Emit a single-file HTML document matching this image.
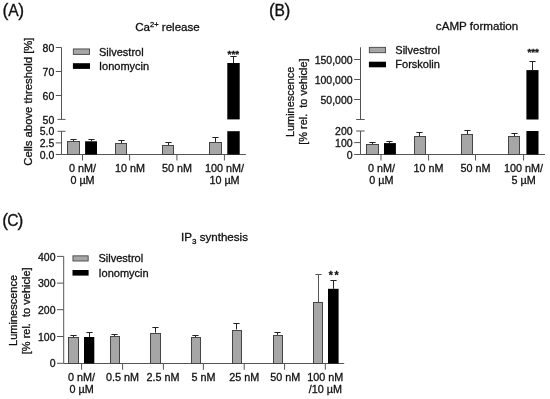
<!DOCTYPE html>
<html><head><meta charset="utf-8"><title>Figure</title>
<style>
html,body{margin:0;padding:0;background:#fff;}
body{width:550px;height:399px;overflow:hidden;}
svg{display:block;filter:blur(0.3px);}
text{font-family:"Liberation Sans", Arial, sans-serif;fill:#111111;stroke:#111111;stroke-width:0.3px;}
</style></head>
<body>
<svg width="550" height="399" viewBox="0 0 550 399" xml:space="preserve">
<rect width="550" height="399" fill="#fff"/>
<text x="2.6" y="16.4" font-size="15.6" text-anchor="start" letter-spacing="-0.3"><tspan font-size="17.5">(</tspan>A<tspan font-size="17.5">)</tspan></text>
<text x="167.5" y="30.9" font-size="11.6" text-anchor="middle" >Ca<tspan font-size="7.5" dy="-4.3">2+</tspan><tspan dy="4.3"> release</tspan></text>
<line x1="61.5" y1="47.5" x2="61.5" y2="119.4" stroke="#555555" stroke-width="1.0"/>
<line x1="61.5" y1="131.3" x2="61.5" y2="154.5" stroke="#555555" stroke-width="1.0"/>
<line x1="55.8" y1="47.5" x2="61.5" y2="47.5" stroke="#555555" stroke-width="1.0"/>
<text x="54.3" y="51.6" font-size="10.5" text-anchor="end" >80</text>
<line x1="55.8" y1="71.5" x2="61.5" y2="71.5" stroke="#555555" stroke-width="1.0"/>
<text x="54.3" y="75.6" font-size="10.5" text-anchor="end" >70</text>
<line x1="55.8" y1="95.5" x2="61.5" y2="95.5" stroke="#555555" stroke-width="1.0"/>
<text x="54.3" y="99.6" font-size="10.5" text-anchor="end" >60</text>
<text x="54.3" y="123.5" font-size="10.5" text-anchor="end" >50</text>
<text x="54.3" y="135.4" font-size="10.5" text-anchor="end" >5.0</text>
<line x1="55.8" y1="142.9" x2="61.5" y2="142.9" stroke="#555555" stroke-width="1.0"/>
<text x="54.3" y="147.0" font-size="10.5" text-anchor="end" >2.5</text>
<line x1="55.8" y1="154.5" x2="61.5" y2="154.5" stroke="#555555" stroke-width="1.0"/>
<text x="54.3" y="158.6" font-size="10.5" text-anchor="end" >0.0</text>
<line x1="57.5" y1="119.4" x2="65.5" y2="119.4" stroke="#555555" stroke-width="1.0"/>
<line x1="57.5" y1="131.3" x2="65.5" y2="131.3" stroke="#555555" stroke-width="1.0"/>
<line x1="61.5" y1="154.5" x2="245.8" y2="154.5" stroke="#555555" stroke-width="1.0"/>
<line x1="82.5" y1="154.5" x2="82.5" y2="160.5" stroke="#555555" stroke-width="1.0"/>
<line x1="129.6" y1="154.5" x2="129.6" y2="160.5" stroke="#555555" stroke-width="1.0"/>
<line x1="176.9" y1="154.5" x2="176.9" y2="160.5" stroke="#555555" stroke-width="1.0"/>
<line x1="224.4" y1="154.5" x2="224.4" y2="160.5" stroke="#555555" stroke-width="1.0"/>
<rect x="73.35" y="48.95" width="16.20" height="5.45" fill="#a6a6a6" stroke="#454545" stroke-width="0.9"/>
<rect x="72.90" y="63.20" width="17.10" height="5.70" fill="#000"/>
<text x="99" y="55.7" font-size="11.0" text-anchor="start" >Silvestrol</text>
<text x="99" y="69.9" font-size="11.0" text-anchor="start" >Ionomycin</text>
<text x="0" y="0" font-size="11.3" text-anchor="middle" transform="translate(31.6,101.6) rotate(-90)">Cells above threshold [%]</text>
<line x1="73.5" y1="141.3" x2="73.5" y2="139.5" stroke="#222222" stroke-width="1.0"/>
<line x1="70.4" y1="139.5" x2="76.6" y2="139.5" stroke="#222222" stroke-width="1.0"/>
<rect x="67.50" y="141.50" width="12.00" height="13.00" fill="#a6a6a6" stroke="#454545" stroke-width="1.0"/>
<line x1="91.5" y1="141.3" x2="91.5" y2="139.5" stroke="#222222" stroke-width="1.0"/>
<line x1="88.4" y1="139.5" x2="94.6" y2="139.5" stroke="#222222" stroke-width="1.0"/>
<rect x="85.10" y="141.30" width="11.90" height="13.20" fill="#000"/>
<line x1="121.5" y1="143.2" x2="121.5" y2="140.5" stroke="#222222" stroke-width="1.0"/>
<line x1="118.4" y1="140.5" x2="124.6" y2="140.5" stroke="#222222" stroke-width="1.0"/>
<rect x="115.50" y="143.50" width="11.00" height="11.00" fill="#a6a6a6" stroke="#454545" stroke-width="1.0"/>
<line x1="168.5" y1="145.4" x2="168.5" y2="142.5" stroke="#222222" stroke-width="1.0"/>
<line x1="165.4" y1="142.5" x2="171.6" y2="142.5" stroke="#222222" stroke-width="1.0"/>
<rect x="162.50" y="145.50" width="11.00" height="9.00" fill="#a6a6a6" stroke="#454545" stroke-width="1.0"/>
<line x1="215.5" y1="142.1" x2="215.5" y2="137.5" stroke="#222222" stroke-width="1.0"/>
<line x1="212.4" y1="137.5" x2="218.6" y2="137.5" stroke="#222222" stroke-width="1.0"/>
<rect x="209.50" y="142.50" width="12.00" height="12.00" fill="#a6a6a6" stroke="#454545" stroke-width="1.0"/>
<rect x="227.30" y="131.20" width="12.40" height="23.30" fill="#000"/>
<line x1="233.5" y1="63" x2="233.5" y2="56.5" stroke="#222222" stroke-width="1.0"/>
<line x1="230.4" y1="56.5" x2="236.6" y2="56.5" stroke="#222222" stroke-width="1.0"/>
<rect x="227.30" y="63.00" width="12.40" height="56.40" fill="#000"/>
<text x="227.6" y="57.4" font-size="9.8" text-anchor="start" font-weight="bold">***</text>
<text x="82.5" y="172.4" font-size="10.8" text-anchor="middle" >0 nM/</text>
<text x="82.5" y="184.2" font-size="10.8" text-anchor="middle" >0 µM</text>
<text x="130" y="172.4" font-size="10.8" text-anchor="middle" >10 nM</text>
<text x="177" y="172.4" font-size="10.8" text-anchor="middle" >50 nM</text>
<text x="224.5" y="172.4" font-size="10.8" text-anchor="middle" >100 nM/</text>
<text x="224.5" y="184.2" font-size="10.8" text-anchor="middle" >10 µM</text>
<text x="268.9" y="16.4" font-size="15.6" text-anchor="start" letter-spacing="-0.3"><tspan font-size="17.5">(</tspan>B<tspan font-size="17.5">)</tspan></text>
<text x="477" y="30.2" font-size="11.6" text-anchor="middle" >cAMP formation</text>
<line x1="360.5" y1="47.3" x2="360.5" y2="119.5" stroke="#555555" stroke-width="1.0"/>
<line x1="360.5" y1="131.0" x2="360.5" y2="154.5" stroke="#555555" stroke-width="1.0"/>
<line x1="354.2" y1="59.5" x2="360.5" y2="59.5" stroke="#555555" stroke-width="1.0"/>
<text x="352.6" y="63.6" font-size="10.5" text-anchor="end" >150,000</text>
<line x1="354.2" y1="79.5" x2="360.5" y2="79.5" stroke="#555555" stroke-width="1.0"/>
<text x="352.6" y="83.6" font-size="10.5" text-anchor="end" >100,000</text>
<line x1="354.2" y1="99.5" x2="360.5" y2="99.5" stroke="#555555" stroke-width="1.0"/>
<text x="352.6" y="103.6" font-size="10.5" text-anchor="end" >50,000</text>
<text x="352.6" y="135.1" font-size="10.5" text-anchor="end" >200</text>
<line x1="354.2" y1="142.6" x2="360.5" y2="142.6" stroke="#555555" stroke-width="1.0"/>
<text x="352.6" y="146.7" font-size="10.5" text-anchor="end" >100</text>
<line x1="354.2" y1="154.5" x2="360.5" y2="154.5" stroke="#555555" stroke-width="1.0"/>
<text x="352.6" y="158.6" font-size="10.5" text-anchor="end" >0</text>
<line x1="356.2" y1="119.5" x2="364.7" y2="119.5" stroke="#555555" stroke-width="1.0"/>
<line x1="356.2" y1="131.0" x2="364.7" y2="131.0" stroke="#555555" stroke-width="1.0"/>
<line x1="360.5" y1="154.5" x2="545" y2="154.5" stroke="#555555" stroke-width="1.0"/>
<line x1="381.0" y1="154.5" x2="381.0" y2="160.5" stroke="#555555" stroke-width="1.0"/>
<line x1="428.6" y1="154.5" x2="428.6" y2="160.5" stroke="#555555" stroke-width="1.0"/>
<line x1="475.5" y1="154.5" x2="475.5" y2="160.5" stroke="#555555" stroke-width="1.0"/>
<line x1="523.6" y1="154.5" x2="523.6" y2="160.5" stroke="#555555" stroke-width="1.0"/>
<rect x="369.35" y="47.35" width="16.20" height="5.35" fill="#a6a6a6" stroke="#454545" stroke-width="0.9"/>
<rect x="368.90" y="61.70" width="17.10" height="5.60" fill="#000"/>
<text x="395.3" y="53.9" font-size="11.0" text-anchor="start" >Silvestrol</text>
<text x="395.3" y="68.4" font-size="11.0" text-anchor="start" >Forskolin</text>
<text x="0" y="0" font-size="10.95" text-anchor="middle" transform="translate(293.8,101.85) rotate(-90)">Luminescence</text>
<text x="0" y="0" font-size="10.95" text-anchor="middle" transform="translate(307,101.65) rotate(-90)">[% rel.&#160; to vehicle]</text>
<line x1="372.5" y1="144.2" x2="372.5" y2="142.5" stroke="#222222" stroke-width="1.0"/>
<line x1="369.4" y1="142.5" x2="375.6" y2="142.5" stroke="#222222" stroke-width="1.0"/>
<rect x="366.50" y="144.50" width="12.00" height="10.00" fill="#a6a6a6" stroke="#454545" stroke-width="1.0"/>
<line x1="389.5" y1="143.1" x2="389.5" y2="141.5" stroke="#222222" stroke-width="1.0"/>
<line x1="386.4" y1="141.5" x2="392.6" y2="141.5" stroke="#222222" stroke-width="1.0"/>
<rect x="384.00" y="143.10" width="11.90" height="11.40" fill="#000"/>
<line x1="419.5" y1="136" x2="419.5" y2="132.5" stroke="#222222" stroke-width="1.0"/>
<line x1="416.4" y1="132.5" x2="422.6" y2="132.5" stroke="#222222" stroke-width="1.0"/>
<rect x="414.50" y="136.50" width="11.00" height="18.00" fill="#a6a6a6" stroke="#454545" stroke-width="1.0"/>
<line x1="467.5" y1="134.2" x2="467.5" y2="130.5" stroke="#222222" stroke-width="1.0"/>
<line x1="464.4" y1="130.5" x2="470.6" y2="130.5" stroke="#222222" stroke-width="1.0"/>
<rect x="461.50" y="134.50" width="11.00" height="20.00" fill="#a6a6a6" stroke="#454545" stroke-width="1.0"/>
<line x1="514.5" y1="136" x2="514.5" y2="133.5" stroke="#222222" stroke-width="1.0"/>
<line x1="511.4" y1="133.5" x2="517.6" y2="133.5" stroke="#222222" stroke-width="1.0"/>
<rect x="508.50" y="136.50" width="11.00" height="18.00" fill="#a6a6a6" stroke="#454545" stroke-width="1.0"/>
<rect x="526.40" y="131.00" width="12.10" height="23.50" fill="#000"/>
<line x1="532.5" y1="70.1" x2="532.5" y2="61.5" stroke="#222222" stroke-width="1.0"/>
<line x1="529.4" y1="61.5" x2="535.6" y2="61.5" stroke="#222222" stroke-width="1.0"/>
<rect x="526.40" y="70.10" width="12.10" height="49.40" fill="#000"/>
<text x="527.4" y="55.4" font-size="9.8" text-anchor="start" font-weight="bold">***</text>
<text x="381.4" y="172.4" font-size="10.8" text-anchor="middle" >0 nM/</text>
<text x="381.4" y="184.2" font-size="10.8" text-anchor="middle" >0 µM</text>
<text x="428.6" y="172.4" font-size="10.8" text-anchor="middle" >10 nM</text>
<text x="475.5" y="172.4" font-size="10.8" text-anchor="middle" >50 nM</text>
<text x="523.6" y="172.4" font-size="10.8" text-anchor="middle" >100 nM/</text>
<text x="523.6" y="184.2" font-size="10.8" text-anchor="middle" >5 µM</text>
<text x="2.2" y="226.2" font-size="15.6" text-anchor="start" letter-spacing="-0.9"><tspan font-size="17.5">(</tspan>C<tspan font-size="17.5">)</tspan></text>
<text x="214.5" y="240.6" font-size="11.6" text-anchor="middle" >IP<tspan font-size="8" dy="3">3</tspan><tspan dy="-3"> synthesis</tspan></text>
<line x1="63.7" y1="256.4" x2="63.7" y2="363.5" stroke="#555555" stroke-width="1.0"/>
<line x1="57" y1="256.4" x2="63.7" y2="256.4" stroke="#555555" stroke-width="1.0"/>
<text x="55.5" y="260.5" font-size="10.5" text-anchor="end" >400</text>
<line x1="57" y1="283.1" x2="63.7" y2="283.1" stroke="#555555" stroke-width="1.0"/>
<text x="55.5" y="287.20000000000005" font-size="10.5" text-anchor="end" >300</text>
<line x1="57" y1="309.7" x2="63.7" y2="309.7" stroke="#555555" stroke-width="1.0"/>
<text x="55.5" y="313.8" font-size="10.5" text-anchor="end" >200</text>
<line x1="57" y1="336.5" x2="63.7" y2="336.5" stroke="#555555" stroke-width="1.0"/>
<text x="55.5" y="340.6" font-size="10.5" text-anchor="end" >100</text>
<line x1="57" y1="363.3" x2="63.7" y2="363.3" stroke="#555555" stroke-width="1.0"/>
<text x="55.5" y="367.40000000000003" font-size="10.5" text-anchor="end" >0</text>
<line x1="63.7" y1="363.5" x2="344.2" y2="363.5" stroke="#555555" stroke-width="1.0"/>
<line x1="81.6" y1="363.5" x2="81.6" y2="369.8" stroke="#555555" stroke-width="1.0"/>
<line x1="122.6" y1="363.5" x2="122.6" y2="369.8" stroke="#555555" stroke-width="1.0"/>
<line x1="163.4" y1="363.5" x2="163.4" y2="369.8" stroke="#555555" stroke-width="1.0"/>
<line x1="203.4" y1="363.5" x2="203.4" y2="369.8" stroke="#555555" stroke-width="1.0"/>
<line x1="244.2" y1="363.5" x2="244.2" y2="369.8" stroke="#555555" stroke-width="1.0"/>
<line x1="284.6" y1="363.5" x2="284.6" y2="369.8" stroke="#555555" stroke-width="1.0"/>
<line x1="325.3" y1="363.5" x2="325.3" y2="369.8" stroke="#555555" stroke-width="1.0"/>
<rect x="72.95" y="255.85" width="15.20" height="5.15" fill="#a6a6a6" stroke="#454545" stroke-width="0.9"/>
<rect x="72.50" y="270.00" width="16.10" height="5.60" fill="#000"/>
<text x="98.5" y="262" font-size="11.0" text-anchor="start" >Silvestrol</text>
<text x="98.5" y="276.6" font-size="11.0" text-anchor="start" >Ionomycin</text>
<text x="0" y="0" font-size="11.0" text-anchor="middle" transform="translate(17,310.45) rotate(-90)">Luminescence</text>
<text x="0" y="0" font-size="11.0" text-anchor="middle" transform="translate(30.2,310.85) rotate(-90)">[% rel.&#160; to vehicle]</text>
<line x1="73.5" y1="337.1" x2="73.5" y2="335.5" stroke="#222222" stroke-width="1.0"/>
<line x1="70.4" y1="335.5" x2="76.6" y2="335.5" stroke="#222222" stroke-width="1.0"/>
<rect x="68.50" y="337.50" width="10.00" height="26.00" fill="#a6a6a6" stroke="#454545" stroke-width="1.0"/>
<line x1="89.5" y1="337" x2="89.5" y2="332.5" stroke="#222222" stroke-width="1.0"/>
<line x1="86.4" y1="332.5" x2="92.6" y2="332.5" stroke="#222222" stroke-width="1.0"/>
<rect x="84.00" y="337.00" width="10.30" height="26.50" fill="#000"/>
<line x1="114.5" y1="336" x2="114.5" y2="334.5" stroke="#222222" stroke-width="1.0"/>
<line x1="111.4" y1="334.5" x2="117.6" y2="334.5" stroke="#222222" stroke-width="1.0"/>
<rect x="110.50" y="336.50" width="9.00" height="27.00" fill="#a6a6a6" stroke="#454545" stroke-width="1.0"/>
<line x1="155.5" y1="332.7" x2="155.5" y2="327.5" stroke="#222222" stroke-width="1.0"/>
<line x1="152.4" y1="327.5" x2="158.6" y2="327.5" stroke="#222222" stroke-width="1.0"/>
<rect x="150.50" y="333.50" width="10.00" height="30.00" fill="#a6a6a6" stroke="#454545" stroke-width="1.0"/>
<line x1="195.5" y1="337.1" x2="195.5" y2="335.5" stroke="#222222" stroke-width="1.0"/>
<line x1="192.4" y1="335.5" x2="198.6" y2="335.5" stroke="#222222" stroke-width="1.0"/>
<rect x="191.50" y="337.50" width="9.00" height="26.00" fill="#a6a6a6" stroke="#454545" stroke-width="1.0"/>
<line x1="236.5" y1="329.5" x2="236.5" y2="323.5" stroke="#222222" stroke-width="1.0"/>
<line x1="233.4" y1="323.5" x2="239.6" y2="323.5" stroke="#222222" stroke-width="1.0"/>
<rect x="232.50" y="330.50" width="9.00" height="33.00" fill="#a6a6a6" stroke="#454545" stroke-width="1.0"/>
<line x1="277.5" y1="334.9" x2="277.5" y2="332.5" stroke="#222222" stroke-width="1.0"/>
<line x1="274.4" y1="332.5" x2="280.6" y2="332.5" stroke="#222222" stroke-width="1.0"/>
<rect x="273.50" y="335.50" width="9.00" height="28.00" fill="#a6a6a6" stroke="#454545" stroke-width="1.0"/>
<line x1="318.5" y1="302.4" x2="318.5" y2="274.5" stroke="#555" stroke-width="1.0"/>
<line x1="315.4" y1="274.5" x2="321.6" y2="274.5" stroke="#555" stroke-width="1.0"/>
<rect x="313.50" y="302.50" width="9.00" height="61.00" fill="#a6a6a6" stroke="#454545" stroke-width="1.0"/>
<line x1="333.5" y1="288.8" x2="333.5" y2="280.5" stroke="#222222" stroke-width="1.0"/>
<line x1="330.4" y1="280.5" x2="336.6" y2="280.5" stroke="#222222" stroke-width="1.0"/>
<rect x="328.00" y="288.80" width="10.60" height="74.70" fill="#000"/>
<text x="328.75" y="279.2" font-size="10.5" text-anchor="start" font-weight="bold" letter-spacing="1.6">**</text>
<text x="81.6" y="380.8" font-size="10.8" text-anchor="middle" >0 nM/</text>
<text x="81.6" y="392.7" font-size="10.8" text-anchor="middle" >0 µM</text>
<text x="122.4" y="380.8" font-size="10.8" text-anchor="middle" >0.5 nM</text>
<text x="163" y="380.8" font-size="10.8" text-anchor="middle" >2.5 nM</text>
<text x="203.5" y="380.8" font-size="10.8" text-anchor="middle" >5 nM</text>
<text x="244.2" y="380.8" font-size="10.8" text-anchor="middle" >25 nM</text>
<text x="285.3" y="380.8" font-size="10.8" text-anchor="middle" >50 nM</text>
<text x="325.3" y="380.8" font-size="10.8" text-anchor="middle" >100 nM</text>
<text x="325.3" y="392.7" font-size="10.8" text-anchor="middle" >/10 µM</text>
</svg>
</body></html>
